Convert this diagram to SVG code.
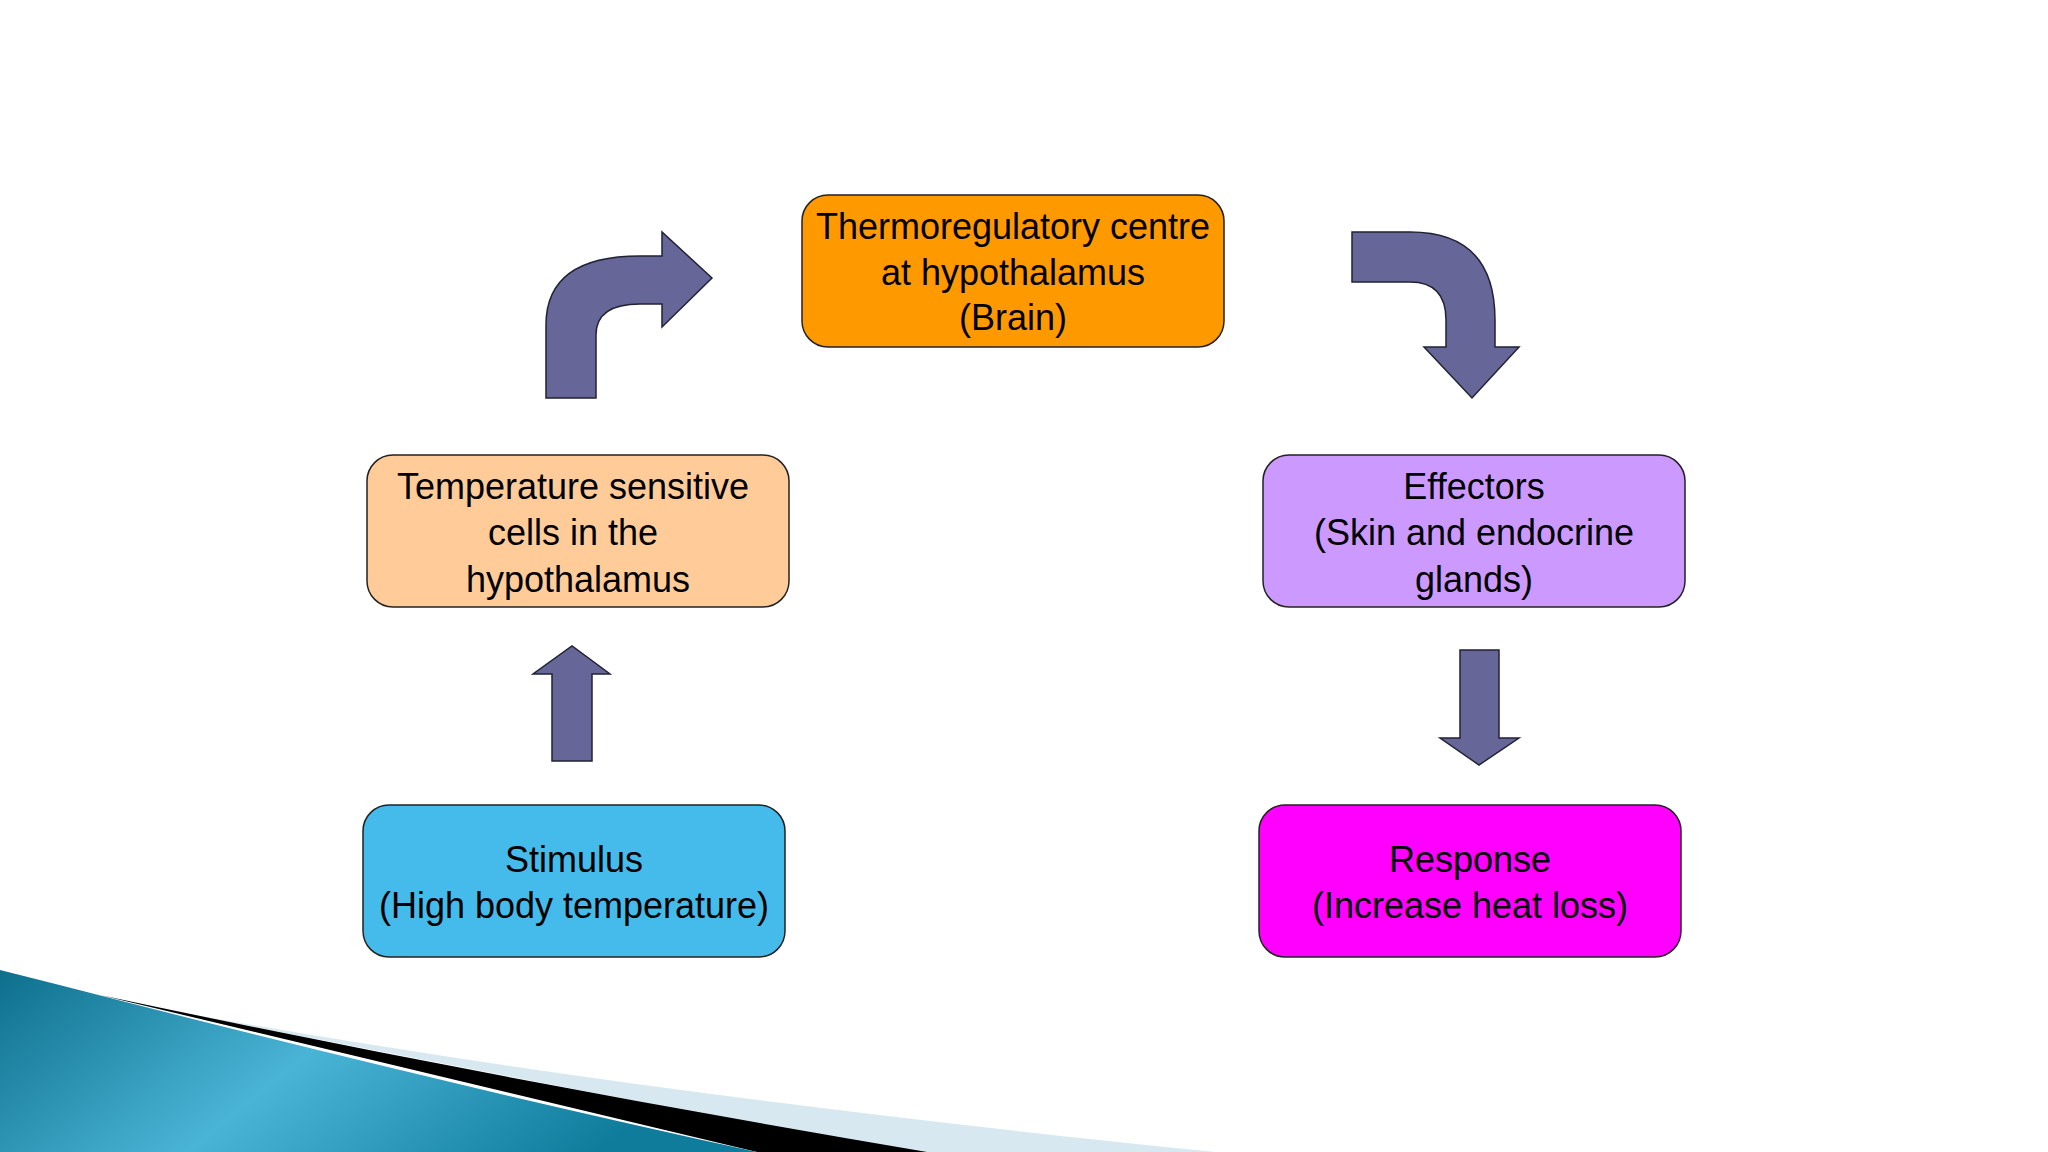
<svg xmlns="http://www.w3.org/2000/svg" width="2048" height="1152" viewBox="0 0 2048 1152">
<defs>
<style>
.box{stroke:#222;stroke-width:1.5}
.t{font-family:"Liberation Sans",Arial,sans-serif;font-size:36px;fill:#000;text-anchor:middle}
.arr{fill:#666699;stroke:#222233;stroke-width:1.5}
</style>
<linearGradient id="teal" x1="0" y1="0" x2="1" y2="0.3">
<stop offset="0" stop-color="#0d6f8c"/><stop offset="0.5" stop-color="#4ab4d6"/><stop offset="1" stop-color="#0f7c9c"/>
</linearGradient>
</defs>
<rect width="2048" height="1152" fill="#fff"/>
<g id="swoosh">
<path d="M140,1005 Q600,1090 1215,1152 L900,1152 Z" fill="#d8e8f0"/>
<path d="M100,995 Q500,1080 927,1152 L757,1152 Z" fill="#000"/>
<path d="M0,970 Q60,985 118,1000 Q450,1085 757,1152 L0,1152 Z" fill="url(#teal)"/>
</g>
<g id="connectors">
<path class="arr" d="M546,398 V325 Q546,256 640,256 H662 V232 L712,278 L662,327 V304 H640 Q596,304 596,335 V398 Z"/>
<path class="arr" d="M1352,232 H1410 Q1495,232 1495,320 V347 H1519 L1472,398 L1424,347 H1446 V320 Q1446,282 1410,282 H1352 Z"/>
<path class="arr" d="M552,761 V674 H533 L572,646 L610,674 H592 V761 Z"/>
<path class="arr" d="M1460,650 H1499 V738 H1519 L1479,765 L1440,738 H1460 Z"/>
</g>
<g id="centre">
<rect class="box" x="802" y="195" width="422" height="152" rx="26" fill="#ff9900"/>
<text class="t" x="1013" y="239">Thermoregulatory centre</text>
<text class="t" x="1013" y="285">at hypothalamus</text>
<text class="t" x="1013" y="330">(Brain)</text>
</g>
<g id="sensors">
<rect class="box" x="367" y="455" width="422" height="152" rx="26" fill="#ffcc99"/>
<text class="t" x="573" y="499">Temperature sensitive</text>
<text class="t" x="573" y="545">cells in the</text>
<text class="t" x="578" y="592">hypothalamus</text>
</g>
<g id="effectors">
<rect class="box" x="1263" y="455" width="422" height="152" rx="26" fill="#cc99ff"/>
<text class="t" x="1474" y="499">Effectors</text>
<text class="t" x="1474" y="545">(Skin and endocrine</text>
<text class="t" x="1474" y="592">glands)</text>
</g>
<g id="stimulus">
<rect class="box" x="363" y="805" width="422" height="152" rx="26" fill="#44bbea"/>
<text class="t" x="574" y="872">Stimulus</text>
<text class="t" x="574" y="918">(High body temperature)</text>
</g>
<g id="response">
<rect class="box" x="1259" y="805" width="422" height="152" rx="26" fill="#ff00ff"/>
<text class="t" x="1470" y="872">Response</text>
<text class="t" x="1470" y="918">(Increase heat loss)</text>
</g>
</svg>
